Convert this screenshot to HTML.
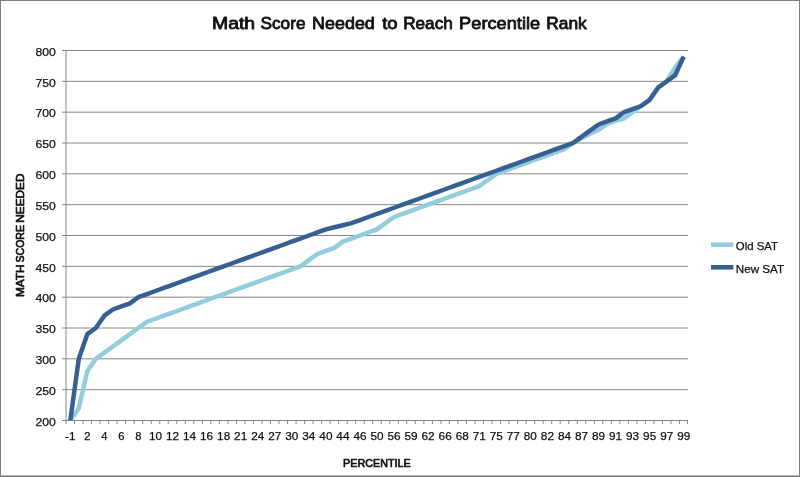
<!DOCTYPE html>
<html lang="en"><head><meta charset="utf-8"><title>Math Score Needed to Reach Percentile Rank</title>
<style>
html,body{margin:0;padding:0;background:#fff;}
body{width:800px;height:477px;overflow:hidden;}
svg{display:block;}
text{font-family:"Liberation Sans",sans-serif;fill:#111;}
.b{font-weight:bold;}
.t{stroke:#111;stroke-width:0.25px;}
</style></head><body>
<svg width="800" height="477" viewBox="0 0 800 477">
<rect x="0" y="0" width="800" height="477" fill="#fff"/>

<rect x="0" y="0" width="800" height="1" fill="#808080"/>
<rect x="0" y="0" width="1" height="477" fill="#808080"/>
<rect x="799" y="0" width="1" height="477" fill="#808080"/>
<rect x="0" y="475.4" width="800" height="1.6" fill="#808080"/>
<g stroke="#868686" stroke-width="1" fill="none">
<line x1="62" y1="420.50" x2="688.0" y2="420.50"/>
<line x1="62" y1="389.67" x2="688.0" y2="389.67"/>
<line x1="62" y1="358.83" x2="688.0" y2="358.83"/>
<line x1="62" y1="328.00" x2="688.0" y2="328.00"/>
<line x1="62" y1="297.17" x2="688.0" y2="297.17"/>
<line x1="62" y1="266.33" x2="688.0" y2="266.33"/>
<line x1="62" y1="235.50" x2="688.0" y2="235.50"/>
<line x1="62" y1="204.67" x2="688.0" y2="204.67"/>
<line x1="62" y1="173.83" x2="688.0" y2="173.83"/>
<line x1="62" y1="143.00" x2="688.0" y2="143.00"/>
<line x1="62" y1="112.17" x2="688.0" y2="112.17"/>
<line x1="62" y1="81.33" x2="688.0" y2="81.33"/>
<line x1="62" y1="50.50" x2="688.0" y2="50.50"/>
<line x1="66.0" y1="50" x2="66.0" y2="424" />
<line x1="74.52" y1="420" x2="74.52" y2="424"/>
<line x1="83.04" y1="420" x2="83.04" y2="424"/>
<line x1="91.56" y1="420" x2="91.56" y2="424"/>
<line x1="100.08" y1="420" x2="100.08" y2="424"/>
<line x1="108.60" y1="420" x2="108.60" y2="424"/>
<line x1="117.12" y1="420" x2="117.12" y2="424"/>
<line x1="125.64" y1="420" x2="125.64" y2="424"/>
<line x1="134.16" y1="420" x2="134.16" y2="424"/>
<line x1="142.68" y1="420" x2="142.68" y2="424"/>
<line x1="151.21" y1="420" x2="151.21" y2="424"/>
<line x1="159.73" y1="420" x2="159.73" y2="424"/>
<line x1="168.25" y1="420" x2="168.25" y2="424"/>
<line x1="176.77" y1="420" x2="176.77" y2="424"/>
<line x1="185.29" y1="420" x2="185.29" y2="424"/>
<line x1="193.81" y1="420" x2="193.81" y2="424"/>
<line x1="202.33" y1="420" x2="202.33" y2="424"/>
<line x1="210.85" y1="420" x2="210.85" y2="424"/>
<line x1="219.37" y1="420" x2="219.37" y2="424"/>
<line x1="227.89" y1="420" x2="227.89" y2="424"/>
<line x1="236.41" y1="420" x2="236.41" y2="424"/>
<line x1="244.93" y1="420" x2="244.93" y2="424"/>
<line x1="253.45" y1="420" x2="253.45" y2="424"/>
<line x1="261.97" y1="420" x2="261.97" y2="424"/>
<line x1="270.49" y1="420" x2="270.49" y2="424"/>
<line x1="279.01" y1="420" x2="279.01" y2="424"/>
<line x1="287.53" y1="420" x2="287.53" y2="424"/>
<line x1="296.05" y1="420" x2="296.05" y2="424"/>
<line x1="304.58" y1="420" x2="304.58" y2="424"/>
<line x1="313.10" y1="420" x2="313.10" y2="424"/>
<line x1="321.62" y1="420" x2="321.62" y2="424"/>
<line x1="330.14" y1="420" x2="330.14" y2="424"/>
<line x1="338.66" y1="420" x2="338.66" y2="424"/>
<line x1="347.18" y1="420" x2="347.18" y2="424"/>
<line x1="355.70" y1="420" x2="355.70" y2="424"/>
<line x1="364.22" y1="420" x2="364.22" y2="424"/>
<line x1="372.74" y1="420" x2="372.74" y2="424"/>
<line x1="381.26" y1="420" x2="381.26" y2="424"/>
<line x1="389.78" y1="420" x2="389.78" y2="424"/>
<line x1="398.30" y1="420" x2="398.30" y2="424"/>
<line x1="406.82" y1="420" x2="406.82" y2="424"/>
<line x1="415.34" y1="420" x2="415.34" y2="424"/>
<line x1="423.86" y1="420" x2="423.86" y2="424"/>
<line x1="432.38" y1="420" x2="432.38" y2="424"/>
<line x1="440.90" y1="420" x2="440.90" y2="424"/>
<line x1="449.42" y1="420" x2="449.42" y2="424"/>
<line x1="457.95" y1="420" x2="457.95" y2="424"/>
<line x1="466.47" y1="420" x2="466.47" y2="424"/>
<line x1="474.99" y1="420" x2="474.99" y2="424"/>
<line x1="483.51" y1="420" x2="483.51" y2="424"/>
<line x1="492.03" y1="420" x2="492.03" y2="424"/>
<line x1="500.55" y1="420" x2="500.55" y2="424"/>
<line x1="509.07" y1="420" x2="509.07" y2="424"/>
<line x1="517.59" y1="420" x2="517.59" y2="424"/>
<line x1="526.11" y1="420" x2="526.11" y2="424"/>
<line x1="534.63" y1="420" x2="534.63" y2="424"/>
<line x1="543.15" y1="420" x2="543.15" y2="424"/>
<line x1="551.67" y1="420" x2="551.67" y2="424"/>
<line x1="560.19" y1="420" x2="560.19" y2="424"/>
<line x1="568.71" y1="420" x2="568.71" y2="424"/>
<line x1="577.23" y1="420" x2="577.23" y2="424"/>
<line x1="585.75" y1="420" x2="585.75" y2="424"/>
<line x1="594.27" y1="420" x2="594.27" y2="424"/>
<line x1="602.79" y1="420" x2="602.79" y2="424"/>
<line x1="611.32" y1="420" x2="611.32" y2="424"/>
<line x1="619.84" y1="420" x2="619.84" y2="424"/>
<line x1="628.36" y1="420" x2="628.36" y2="424"/>
<line x1="636.88" y1="420" x2="636.88" y2="424"/>
<line x1="645.40" y1="420" x2="645.40" y2="424"/>
<line x1="653.92" y1="420" x2="653.92" y2="424"/>
<line x1="662.44" y1="420" x2="662.44" y2="424"/>
<line x1="670.96" y1="420" x2="670.96" y2="424"/>
<line x1="679.48" y1="420" x2="679.48" y2="424"/>
<line x1="687.50" y1="420" x2="687.50" y2="424"/>
</g>
<clipPath id="c"><rect x="66.0" y="40" width="632.0" height="381.00"/></clipPath>
<g clip-path="url(#c)" fill="none" stroke-width="4.5" stroke-linejoin="round" stroke-linecap="butt">
<polyline stroke="#92CDDC" points="70.26,420.50 78.78,408.17 87.30,371.17 95.82,358.83 104.34,352.67 112.86,346.50 121.38,340.33 129.90,334.17 138.42,328.00 146.95,321.83 155.47,318.75 163.99,315.67 172.51,312.58 181.03,309.50 189.55,306.42 198.07,303.33 206.59,300.25 215.11,297.17 223.63,294.08 232.15,291.00 240.67,287.92 249.19,284.83 257.71,281.75 266.23,278.67 274.75,275.58 283.27,272.50 291.79,269.42 300.32,266.33 308.84,260.17 317.36,254.00 325.88,250.92 334.40,247.83 342.92,241.67 351.44,238.58 359.96,235.50 368.48,232.42 377.00,229.33 385.52,223.17 394.04,217.00 402.56,213.92 411.08,210.83 419.60,207.75 428.12,204.67 436.64,201.58 445.16,198.50 453.68,195.42 462.21,192.33 470.73,189.25 479.25,186.17 487.77,180.00 496.29,173.83 504.81,170.75 513.33,167.67 521.85,164.58 530.37,161.50 538.89,158.42 547.41,155.33 555.93,152.25 564.45,149.17 572.97,143.00 581.49,138.38 590.01,133.75 598.53,130.05 607.05,123.88 615.58,120.80 624.10,118.33 632.62,112.17 641.14,106.00 649.66,99.83 658.18,87.50 666.70,81.33 675.22,67.15 683.74,56.67"/>
<polyline stroke="#366092" points="70.26,420.50 78.78,358.83 87.30,334.17 95.82,328.00 104.34,315.67 112.86,309.50 121.38,306.42 129.90,303.33 138.42,297.17 146.95,294.08 155.47,291.00 163.99,287.92 172.51,284.83 181.03,281.75 189.55,278.67 198.07,275.58 206.59,272.50 215.11,269.42 223.63,266.33 232.15,263.25 240.67,260.17 249.19,257.08 257.71,254.00 266.23,250.92 274.75,247.83 283.27,244.75 291.79,241.67 300.32,238.58 308.84,235.50 317.36,232.42 325.88,229.33 334.40,227.30 342.92,225.20 351.44,223.17 359.96,220.08 368.48,217.00 377.00,213.92 385.52,210.83 394.04,207.75 402.56,204.67 411.08,201.58 419.60,198.50 428.12,195.42 436.64,192.33 445.16,189.25 453.68,186.17 462.21,183.08 470.73,180.00 479.25,176.92 487.77,173.83 496.29,170.75 504.81,167.67 513.33,164.58 521.85,161.50 530.37,158.42 538.89,155.33 547.41,152.25 555.93,149.17 564.45,146.08 572.97,143.00 581.49,136.83 590.01,130.67 598.53,124.50 607.05,121.42 615.58,118.33 624.10,112.17 632.62,109.08 641.14,106.00 649.66,99.83 658.18,87.50 666.70,81.33 675.22,75.17 683.74,56.67"/>
</g>
<text class="t" x="55.8" y="425.70" font-size="11.8" text-anchor="end" textLength="20.4" lengthAdjust="spacingAndGlyphs">200</text>
<text class="t" x="55.8" y="394.87" font-size="11.8" text-anchor="end" textLength="20.4" lengthAdjust="spacingAndGlyphs">250</text>
<text class="t" x="55.8" y="364.03" font-size="11.8" text-anchor="end" textLength="20.4" lengthAdjust="spacingAndGlyphs">300</text>
<text class="t" x="55.8" y="333.20" font-size="11.8" text-anchor="end" textLength="20.4" lengthAdjust="spacingAndGlyphs">350</text>
<text class="t" x="55.8" y="302.37" font-size="11.8" text-anchor="end" textLength="20.4" lengthAdjust="spacingAndGlyphs">400</text>
<text class="t" x="55.8" y="271.53" font-size="11.8" text-anchor="end" textLength="20.4" lengthAdjust="spacingAndGlyphs">450</text>
<text class="t" x="55.8" y="240.70" font-size="11.8" text-anchor="end" textLength="20.4" lengthAdjust="spacingAndGlyphs">500</text>
<text class="t" x="55.8" y="209.87" font-size="11.8" text-anchor="end" textLength="20.4" lengthAdjust="spacingAndGlyphs">550</text>
<text class="t" x="55.8" y="179.03" font-size="11.8" text-anchor="end" textLength="20.4" lengthAdjust="spacingAndGlyphs">600</text>
<text class="t" x="55.8" y="148.20" font-size="11.8" text-anchor="end" textLength="20.4" lengthAdjust="spacingAndGlyphs">650</text>
<text class="t" x="55.8" y="117.37" font-size="11.8" text-anchor="end" textLength="20.4" lengthAdjust="spacingAndGlyphs">700</text>
<text class="t" x="55.8" y="86.53" font-size="11.8" text-anchor="end" textLength="20.4" lengthAdjust="spacingAndGlyphs">750</text>
<text class="t" x="55.8" y="55.70" font-size="11.8" text-anchor="end" textLength="20.4" lengthAdjust="spacingAndGlyphs">800</text>
<text x="70.26" class="t" y="440.2" font-size="11.8" text-anchor="middle" textLength="10.4" lengthAdjust="spacingAndGlyphs">-1</text>
<text x="87.30" class="t" y="440.2" font-size="11.8" text-anchor="middle" textLength="6.2" lengthAdjust="spacingAndGlyphs">2</text>
<text x="104.34" class="t" y="440.2" font-size="11.8" text-anchor="middle" textLength="6.2" lengthAdjust="spacingAndGlyphs">4</text>
<text x="121.38" class="t" y="440.2" font-size="11.8" text-anchor="middle" textLength="6.2" lengthAdjust="spacingAndGlyphs">6</text>
<text x="138.42" class="t" y="440.2" font-size="11.8" text-anchor="middle" textLength="6.2" lengthAdjust="spacingAndGlyphs">8</text>
<text x="155.47" class="t" y="440.2" font-size="11.8" text-anchor="middle" textLength="13.1" lengthAdjust="spacingAndGlyphs">10</text>
<text x="172.51" class="t" y="440.2" font-size="11.8" text-anchor="middle" textLength="13.1" lengthAdjust="spacingAndGlyphs">12</text>
<text x="189.55" class="t" y="440.2" font-size="11.8" text-anchor="middle" textLength="13.1" lengthAdjust="spacingAndGlyphs">14</text>
<text x="206.59" class="t" y="440.2" font-size="11.8" text-anchor="middle" textLength="13.1" lengthAdjust="spacingAndGlyphs">16</text>
<text x="223.63" class="t" y="440.2" font-size="11.8" text-anchor="middle" textLength="13.1" lengthAdjust="spacingAndGlyphs">18</text>
<text x="240.67" class="t" y="440.2" font-size="11.8" text-anchor="middle" textLength="13.1" lengthAdjust="spacingAndGlyphs">21</text>
<text x="257.71" class="t" y="440.2" font-size="11.8" text-anchor="middle" textLength="13.1" lengthAdjust="spacingAndGlyphs">24</text>
<text x="274.75" class="t" y="440.2" font-size="11.8" text-anchor="middle" textLength="13.1" lengthAdjust="spacingAndGlyphs">27</text>
<text x="291.79" class="t" y="440.2" font-size="11.8" text-anchor="middle" textLength="13.1" lengthAdjust="spacingAndGlyphs">30</text>
<text x="308.84" class="t" y="440.2" font-size="11.8" text-anchor="middle" textLength="13.1" lengthAdjust="spacingAndGlyphs">34</text>
<text x="325.88" class="t" y="440.2" font-size="11.8" text-anchor="middle" textLength="13.1" lengthAdjust="spacingAndGlyphs">40</text>
<text x="342.92" class="t" y="440.2" font-size="11.8" text-anchor="middle" textLength="13.1" lengthAdjust="spacingAndGlyphs">44</text>
<text x="359.96" class="t" y="440.2" font-size="11.8" text-anchor="middle" textLength="13.1" lengthAdjust="spacingAndGlyphs">46</text>
<text x="377.00" class="t" y="440.2" font-size="11.8" text-anchor="middle" textLength="13.1" lengthAdjust="spacingAndGlyphs">50</text>
<text x="394.04" class="t" y="440.2" font-size="11.8" text-anchor="middle" textLength="13.1" lengthAdjust="spacingAndGlyphs">56</text>
<text x="411.08" class="t" y="440.2" font-size="11.8" text-anchor="middle" textLength="13.1" lengthAdjust="spacingAndGlyphs">59</text>
<text x="428.12" class="t" y="440.2" font-size="11.8" text-anchor="middle" textLength="13.1" lengthAdjust="spacingAndGlyphs">62</text>
<text x="445.16" class="t" y="440.2" font-size="11.8" text-anchor="middle" textLength="13.1" lengthAdjust="spacingAndGlyphs">66</text>
<text x="462.21" class="t" y="440.2" font-size="11.8" text-anchor="middle" textLength="13.1" lengthAdjust="spacingAndGlyphs">68</text>
<text x="479.25" class="t" y="440.2" font-size="11.8" text-anchor="middle" textLength="13.1" lengthAdjust="spacingAndGlyphs">71</text>
<text x="496.29" class="t" y="440.2" font-size="11.8" text-anchor="middle" textLength="13.1" lengthAdjust="spacingAndGlyphs">75</text>
<text x="513.33" class="t" y="440.2" font-size="11.8" text-anchor="middle" textLength="13.1" lengthAdjust="spacingAndGlyphs">77</text>
<text x="530.37" class="t" y="440.2" font-size="11.8" text-anchor="middle" textLength="13.1" lengthAdjust="spacingAndGlyphs">80</text>
<text x="547.41" class="t" y="440.2" font-size="11.8" text-anchor="middle" textLength="13.1" lengthAdjust="spacingAndGlyphs">82</text>
<text x="564.45" class="t" y="440.2" font-size="11.8" text-anchor="middle" textLength="13.1" lengthAdjust="spacingAndGlyphs">84</text>
<text x="581.49" class="t" y="440.2" font-size="11.8" text-anchor="middle" textLength="13.1" lengthAdjust="spacingAndGlyphs">87</text>
<text x="598.53" class="t" y="440.2" font-size="11.8" text-anchor="middle" textLength="13.1" lengthAdjust="spacingAndGlyphs">89</text>
<text x="615.58" class="t" y="440.2" font-size="11.8" text-anchor="middle" textLength="13.1" lengthAdjust="spacingAndGlyphs">91</text>
<text x="632.62" class="t" y="440.2" font-size="11.8" text-anchor="middle" textLength="13.1" lengthAdjust="spacingAndGlyphs">93</text>
<text x="649.66" class="t" y="440.2" font-size="11.8" text-anchor="middle" textLength="13.1" lengthAdjust="spacingAndGlyphs">95</text>
<text x="666.70" class="t" y="440.2" font-size="11.8" text-anchor="middle" textLength="13.1" lengthAdjust="spacingAndGlyphs">97</text>
<text x="683.74" class="t" y="440.2" font-size="11.8" text-anchor="middle" textLength="13.1" lengthAdjust="spacingAndGlyphs">99</text>
<g font-size="16.6" stroke="#111" stroke-width="0.8" stroke-linejoin="round">
<text x="212.00" y="29.2" textLength="43.15" lengthAdjust="spacingAndGlyphs">Math</text>
<text x="260.50" y="29.2" textLength="44.98" lengthAdjust="spacingAndGlyphs">Score</text>
<text x="312.14" y="29.2" textLength="62.66" lengthAdjust="spacingAndGlyphs">Needed</text>
<text x="382.20" y="29.2" textLength="15.45" lengthAdjust="spacingAndGlyphs">to</text>
<text x="403.16" y="29.2" textLength="49.64" lengthAdjust="spacingAndGlyphs">Reach</text>
<text x="459.11" y="29.2" textLength="81.08" lengthAdjust="spacingAndGlyphs">Percentile</text>
<text x="546.31" y="29.2" textLength="40.49" lengthAdjust="spacingAndGlyphs">Rank</text>
</g>
<g font-size="10.8" stroke="#111" stroke-width="0.7" stroke-linejoin="round">
<text x="343.10" y="466.5" textLength="67.68" lengthAdjust="spacingAndGlyphs">PERCENTILE</text>
<g transform="translate(24.1,297) rotate(-90)">
<text x="0.05" y="0" textLength="32.45" lengthAdjust="spacingAndGlyphs">MATH</text>
<text x="34.50" y="0" textLength="37.50" lengthAdjust="spacingAndGlyphs">SCORE</text>
<text x="74.27" y="0" textLength="49.17" lengthAdjust="spacingAndGlyphs">NEEDED</text>
</g></g>
<rect x="711" y="242.4" width="22.3" height="4.6" fill="#92CDDC"/>
<rect x="711" y="265" width="22.3" height="4.6" fill="#366092"/>
<text class="t" font-size="11.7" x="735.8" y="249.9" textLength="42.2" lengthAdjust="spacingAndGlyphs">Old SAT</text>
<text class="t" font-size="11.7" x="735.8" y="272.9" textLength="48.2" lengthAdjust="spacingAndGlyphs">New SAT</text>
</svg></body></html>
